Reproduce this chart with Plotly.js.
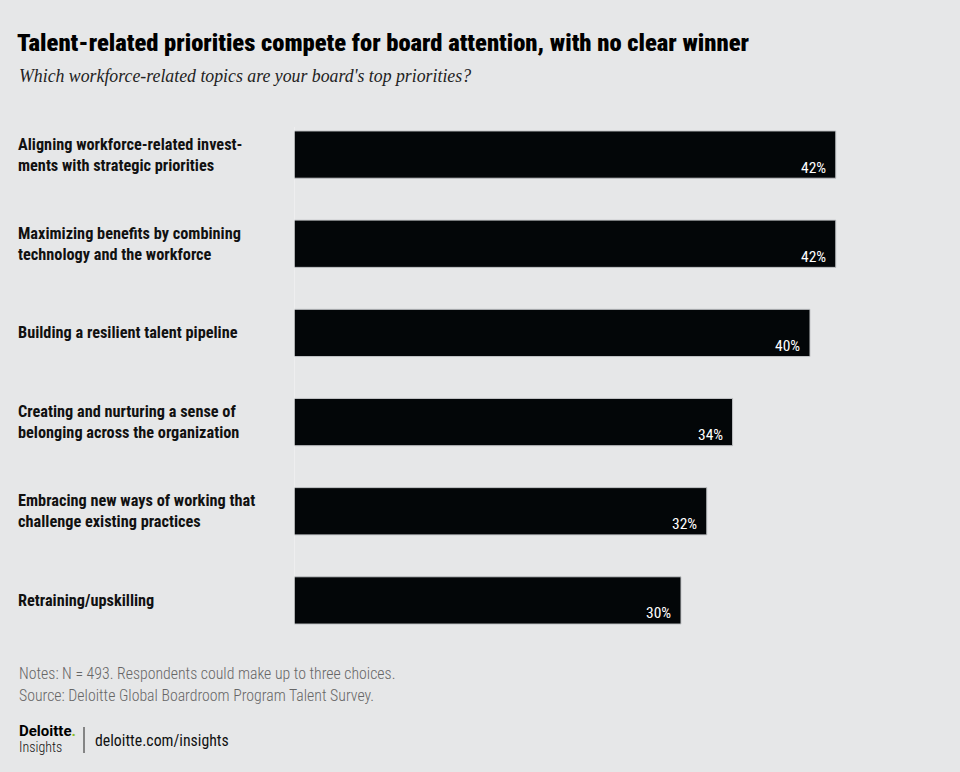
<!DOCTYPE html>
<html>
<head>
<meta charset="utf-8">
<script src="https://cdn.plot.ly/plotly-3.0.1.min.js"></script>
<style>
  html, body { margin: 0; padding: 0; background: #e6e7e8; }
  #chart { width: 960px; height: 772px; }
</style>
</head>
<body>
<div id="chart"></div>
<script>
// Survey topics (top to bottom) and share of respondents naming each one
const topics = [
  "Aligning workforce-related invest-<br>ments with strategic priorities",
  "Maximizing benefits by combining<br>technology and the workforce",
  "Building a resilient talent pipeline",
  "Creating and nurturing a sense of<br>belonging across the organization",
  "Embracing new ways of working that<br>challenge existing practices",
  "Retraining/upskilling"
];
const shares = [42, 42, 40, 34, 32, 30];
const valueLabels = ["42%", "42%", "40%", "34%", "32%", "30%"];

const NARROW = "'Liberation Sans Narrow', 'Roboto Condensed', 'Arial Narrow', Roboto, sans-serif";
const SERIF = "'Liberation Serif', 'DejaVu Serif', serif";
const BG = "#e6e7e8";

const idx = topics.map((_, i) => i);

const bars = {
  type: "bar",
  orientation: "h",
  x: shares,
  y: idx,
  width: 0.53,
  marker: { color: "#030608", line: { color: "#c4c6c8", width: 1 } },
  hoverinfo: "skip"
};

const px = x => (x - 294) / 645;
const py = y => (645 - y) / 535;

// Category labels, left-aligned in the margin
const topicNotes = topics.map((t, i) => ({
  xref: "paper", yref: "y",
  x: px(16), y: i,
  xanchor: "left", yanchor: "middle", align: "left",
  text: t, showarrow: false,
  font: { family: NARROW, size: 16.3, color: "#111111", weight: 700 }
}));

// Value labels sitting at the lower right of each bar
const valueNotes = shares.map((v, i) => ({
  xref: "x", yref: "y",
  x: v, y: i,
  xanchor: "right", yanchor: "middle",
  xshift: -8, yshift: -13,
  text: valueLabels[i], showarrow: false,
  font: { family: NARROW, size: 15.5, color: "#ffffff" }
}));

const extraNotes = [
  {
    text: "<i>Which workforce-related topics are your board's top priorities?</i>",
    x: px(17), y: py(76), xanchor: "left", yanchor: "middle",
    font: { family: SERIF, size: 17.8, color: "#222222" }
  },
  {
    text: "Notes: N = 493. Respondents could make up to three choices.",
    x: px(17), y: py(673), xanchor: "left", yanchor: "middle",
    font: { family: NARROW, size: 15.8, color: "#666666", weight: 300 }
  },
  {
    text: "Source: Deloitte Global Boardroom Program Talent Survey.",
    x: px(17), y: py(695), xanchor: "left", yanchor: "middle",
    font: { family: NARROW, size: 15.8, color: "#666666", weight: 300 }
  },
  {
    text: "<b>Deloitte</b><span style='color:#86bc25'><b>.</b></span>",
    x: px(17), y: py(731), xanchor: "left", yanchor: "middle",
    font: { family: "Roboto, 'Liberation Sans', sans-serif", size: 15, color: "#000000", weight: 900 }
  },
  {
    text: "Insights",
    x: px(17), y: py(747), xanchor: "left", yanchor: "middle",
    font: { family: NARROW, size: 14, color: "#111111", weight: 300 }
  },
  {
    text: "deloitte.com/insights",
    x: px(93), y: py(740), xanchor: "left", yanchor: "middle",
    font: { family: NARROW, size: 15.8, color: "#111111" }
  }
].map(a => Object.assign({ xref: "paper", yref: "paper", showarrow: false, align: "left" }, a));

const layout = {
  width: 960,
  height: 772,
  paper_bgcolor: BG,
  plot_bgcolor: BG,
  margin: { l: 294, r: 21, t: 110, b: 127 },
  showlegend: false,
  bargap: 0,
  title: {
    text: "Talent-related priorities compete for board attention, with no clear winner",
    x: 17 / 960, xanchor: "left",
    y: 1 - 42 / 772, yanchor: "middle",
    font: { family: NARROW, size: 24.6, color: "#000000", weight: 900 }
  },
  xaxis: {
    range: [0, 50],
    showgrid: false, zeroline: false, showline: false,
    showticklabels: false, ticks: "", fixedrange: true
  },
  yaxis: {
    type: "linear",
    range: [5.5, -0.5],
    showgrid: false, zeroline: false, showline: false,
    showticklabels: false, ticks: "", fixedrange: true
  },
  shapes: [
    {
      type: "line", xref: "x", yref: "y",
      x0: 0, x1: 0, y0: -0.31, y1: 5.27,
      line: { color: "#f6f6f6", width: 1 }
    },
    {
      type: "line", xref: "paper", yref: "paper",
      x0: px(84), x1: px(84), y0: py(727), y1: py(753),
      line: { color: "#222222", width: 1 }
    }
  ],
  annotations: topicNotes.concat(valueNotes, extraNotes)
};

Plotly.newPlot("chart", [bars], layout, { displayModeBar: false, staticPlot: true });
</script>
</body>
</html>
